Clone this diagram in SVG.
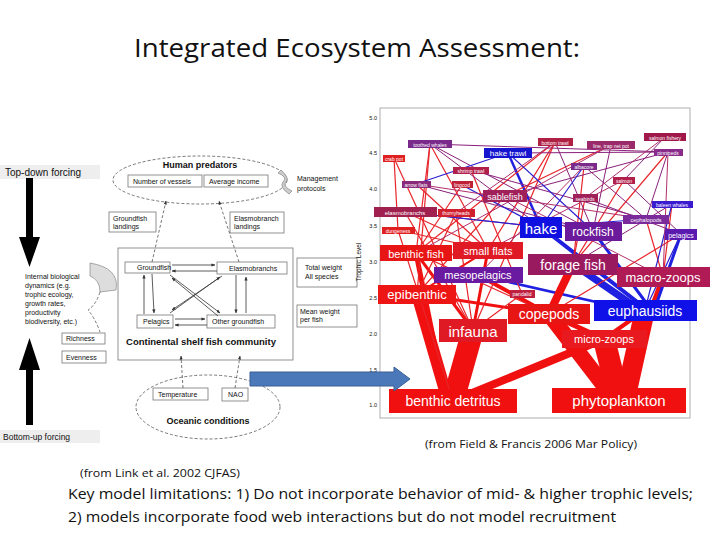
<svg xmlns="http://www.w3.org/2000/svg" width="720" height="540" viewBox="0 0 720 540">
<defs>
<style>
text{font-family:"Liberation Sans",Arial,sans-serif;fill:#111}
.cal{font-family:"Open Sans","Liberation Sans",sans-serif}
.bx{fill:#fff;stroke:#777;stroke-width:0.8}
.s{font-size:7px}
.b{font-weight:bold}
.dash{fill:none;stroke:#555;stroke-width:0.8;stroke-dasharray:3 2}
.ar{stroke:#333;stroke-width:0.8;fill:none}
.r{stroke:#e8252a;stroke-width:1.2}
.p{stroke:#8a1f7a;stroke-width:1}
.bl{stroke:#2b1fd0;stroke-width:1.2}
.m{stroke:#b0306a;stroke-width:1}
.fw text{fill:#fff}
</style>
<marker id="ah" viewBox="0 0 10 10" refX="9" refY="5" markerWidth="5" markerHeight="5" orient="auto"><path d="M0,1 L10,5 L0,9 z" fill="#333"/></marker>
</defs>
<rect width="720" height="540" fill="#fff"/>
<text x="357" y="57" text-anchor="middle" font-size="25" class="cal" textLength="446" lengthAdjust="spacingAndGlyphs">Integrated Ecosystem Assessment:</text>

<!-- left diagram -->
<g id="forcing">
<rect x="0" y="165" width="100" height="14" fill="#eee"/>
<text x="5" y="176" font-size="10">Top-down forcing</text>
<polygon points="26,178 33,178 33,237 40,237 29.5,267 19,237 26,237" fill="#000"/>
<polygon points="29.5,338 40,370 33,370 33,425 26,425 26,370 19,370" fill="#000"/>
<rect x="0" y="430" width="100" height="13" fill="#eee"/>
<text x="3" y="440" font-size="8.5">Bottom-up forcing</text>
</g>
<g id="human">
<ellipse cx="200" cy="180" rx="87" ry="24" class="dash"/>
<text x="200" y="168" font-size="9" text-anchor="middle" class="b">Human predators</text>
<rect x="128" y="175" width="74" height="12" class="bx"/><text x="133" y="184" class="s">Number of vessels</text>
<rect x="204" y="175" width="64" height="12" class="bx"/><text x="209" y="184" class="s">Average income</text>
</g>
<g id="mgmt">
<path d="M281,170 Q290,178 286,182 Q282,186 292,191 L289,194 Q279,187 283,182 Q288,177 278,173 z" fill="#ccc" stroke="#777" stroke-width="0.6"/>
<text x="297" y="181" class="s">Management</text><text x="297" y="191" class="s">protocols</text>
</g>
<g id="landings">
<rect x="109" y="212" width="47" height="20" class="bx"/><text x="113" y="221" class="s">Groundfish</text><text x="113" y="229" class="s">landings</text>
<rect x="230" y="212" width="54" height="21" class="bx"/><text x="234" y="221" class="s">Elasmobranch</text><text x="234" y="229" class="s">landings</text>
</g>
<g id="community">
<rect x="118" y="248" width="175" height="112" class="bx"/>
<rect x="125" y="262" width="45" height="11" class="bx"/><text x="137" y="270" class="s">Groundfish</text>
<rect x="217" y="262" width="70" height="12" class="bx"/><text x="229" y="271" class="s">Elasmobranchs</text>
<rect x="137" y="315" width="36" height="13" class="bx"/><text x="143" y="324" class="s">Pelagics</text>
<rect x="207" y="315" width="68" height="13" class="bx"/><text x="212" y="324" class="s">Other groundfish</text>
<text x="201" y="345" font-size="9.5" text-anchor="middle" class="b">Continental shelf fish community</text>
</g>
<g id="internal">
<text class="s" x="25" y="279">Internal biological</text>
<text class="s" x="25" y="288">dynamics (e.g.</text>
<text class="s" x="25" y="297">trophic ecology,</text>
<text class="s" x="25" y="306">growth rates,</text>
<text class="s" x="25" y="315">productivity</text>
<text class="s" x="25" y="324">biodiversity, etc.)</text>
<path d="M90,263 Q120,268 116,290 L100,292 Q100,280 90,276 z" fill="#ddd" stroke="#777" stroke-width="0.6"/>
<path d="M100,292 Q96,305 88,310 Q95,318 100,332" class="dash"/>
<rect x="62" y="333" width="43" height="11" class="bx"/><text x="66" y="341" class="s">Richness</text>
<rect x="62" y="351" width="44" height="12" class="bx"/><text x="66" y="360" class="s">Evenness</text>
</g>
<g id="metrics">
<rect x="297" y="258" width="60" height="29" class="bx"/><text x="305" y="270" class="s">Total weight</text><text x="305" y="279" class="s">All species</text>
<rect x="297" y="305" width="60" height="22" class="bx"/><text x="300" y="314" class="s">Mean weight</text><text x="300" y="322" class="s">per fish</text>
</g>
<g id="ocean">
<ellipse cx="208" cy="407" rx="72" ry="32" class="dash"/>
<rect x="153" y="388" width="55" height="12" class="bx"/><text x="158" y="397" class="s">Temperature</text>
<rect x="222" y="388" width="26" height="13" class="bx"/><text x="228" y="397" class="s">NAO</text>
<text x="208" y="424" font-size="9" text-anchor="middle" class="b">Oceanic conditions</text>
</g>
<g id="left-connectors" class="ar">
<line x1="152" y1="262" x2="166" y2="201" class="dash" marker-end="url(#ah)"/>
<line x1="239" y1="262" x2="219" y2="201" class="dash" marker-end="url(#ah)"/>
<line x1="183" y1="388" x2="181" y2="356" class="dash" marker-end="url(#ah)"/>
<line x1="235" y1="388" x2="240" y2="356" class="dash" marker-end="url(#ah)"/>
<line x1="172" y1="265" x2="215" y2="265" marker-end="url(#ah)"/>
<line x1="217" y1="271" x2="172" y2="271" marker-end="url(#ah)"/>
<line x1="175" y1="319" x2="205" y2="319" marker-end="url(#ah)"/>
<line x1="207" y1="325" x2="175" y2="325" marker-end="url(#ah)"/>
<line x1="144" y1="314" x2="144" y2="275" marker-end="url(#ah)"/>
<line x1="152" y1="274" x2="154" y2="313" marker-end="url(#ah)"/>
<line x1="236" y1="275" x2="236" y2="313" marker-end="url(#ah)"/>
<line x1="246" y1="313" x2="246" y2="277" marker-end="url(#ah)"/>
<line x1="170" y1="275" x2="220" y2="313" marker-end="url(#ah)"/>
<line x1="218" y1="316" x2="172" y2="278" marker-end="url(#ah)"/>
<line x1="170" y1="313" x2="220" y2="277" marker-end="url(#ah)"/>
<line x1="222" y1="276" x2="172" y2="310" marker-end="url(#ah)"/>
</g>

<!-- food web -->
<g id="plot">
<rect x="380" y="108" width="310" height="310" fill="#fff" stroke="#999" stroke-width="0.8"/>
<g font-size="5.5" text-anchor="end" fill="#333">
<text x="377" y="120">5.0</text><text x="377" y="155">4.5</text><text x="377" y="191">4.0</text><text x="377" y="228">3.5</text><text x="377" y="264">3.0</text><text x="377" y="300">2.5</text><text x="377" y="336">2.0</text><text x="377" y="372">1.5</text><text x="377" y="407">1.0</text>
</g>
<text transform="translate(361,262) rotate(-90)" font-size="6.5" text-anchor="middle">Trophic Level</text>
</g>
<g id="web-connectors" stroke-linecap="butt">
<line x1="453" y1="401" x2="473" y2="330" stroke="#f01010" stroke-width="22"/>
<line x1="448" y1="401" x2="417" y2="294" stroke="#f01010" stroke-width="12"/>
<line x1="446" y1="401" x2="416" y2="253" stroke="#f01010" stroke-width="5"/>
<line x1="460" y1="398" x2="604" y2="339" stroke="#f01010" stroke-width="8"/>
<line x1="619" y1="400" x2="604" y2="339" stroke="#f01010" stroke-width="22"/>
<line x1="615" y1="400" x2="549" y2="314" stroke="#f01010" stroke-width="16"/>
<line x1="625" y1="400" x2="645" y2="310" stroke="#f01010" stroke-width="20"/>
<line x1="618" y1="400" x2="663" y2="277" stroke="#f01010" stroke-width="5"/>
<line x1="640" y1="310" x2="573" y2="264" stroke="#2020e0" stroke-width="7"/>
<line x1="645" y1="308" x2="541" y2="227" stroke="#2020e0" stroke-width="4"/>
<line x1="650" y1="308" x2="593" y2="231" stroke="#2020e0" stroke-width="3"/>
<line x1="655" y1="308" x2="681" y2="234" stroke="#2020e0" stroke-width="3"/>
<line x1="640" y1="312" x2="478" y2="275" stroke="#2020e0" stroke-width="2.5"/>
<line x1="541" y1="227" x2="508" y2="153" stroke="#2020e0" stroke-width="2.5"/>
<line x1="549" y1="314" x2="573" y2="264" stroke="#f01010" stroke-width="8"/>
<line x1="549" y1="314" x2="478" y2="275" stroke="#f01010" stroke-width="4"/>
<line x1="473" y1="330" x2="416" y2="253" stroke="#f01010" stroke-width="3"/>
<line x1="473" y1="330" x2="488" y2="250" stroke="#f01010" stroke-width="3"/>
<line x1="417" y1="294" x2="488" y2="250" stroke="#f01010" stroke-width="2"/>
<line x1="417" y1="294" x2="549" y2="314" stroke="#f01010" stroke-width="3"/>
<line x1="604" y1="339" x2="549" y2="314" stroke="#f01010" stroke-width="5"/>
<line x1="604" y1="339" x2="645" y2="310" stroke="#f01010" stroke-width="4"/>
<g class="r">
<line x1="394" y1="158" x2="398" y2="230"/><line x1="398" y1="230" x2="453" y2="401"/><line x1="430" y1="144" x2="416" y2="253"/><line x1="430" y1="144" x2="488" y2="250"/>
<line x1="405" y1="212" x2="473" y2="330"/><line x1="456" y1="213" x2="417" y2="294"/><line x1="462" y1="185" x2="416" y2="253"/><line x1="416" y1="184" x2="488" y2="250"/>
<line x1="555" y1="142" x2="416" y2="253"/><line x1="555" y1="142" x2="488" y2="250"/><line x1="471" y1="170" x2="522" y2="294"/><line x1="505" y1="196" x2="417" y2="294"/>
<line x1="611" y1="145" x2="505" y2="196"/><line x1="624" y1="180" x2="573" y2="264"/><line x1="584" y1="166" x2="573" y2="264"/><line x1="585" y1="198" x2="573" y2="264"/>
<line x1="416" y1="253" x2="549" y2="314"/><line x1="405" y1="212" x2="488" y2="250"/><line x1="456" y1="213" x2="473" y2="330"/><line x1="522" y1="294" x2="473" y2="330"/>
<line x1="672" y1="204" x2="663" y2="277"/><line x1="681" y1="234" x2="549" y2="314"/><line x1="646" y1="219" x2="663" y2="277"/><line x1="668" y1="152" x2="573" y2="264"/>
<line x1="398" y1="230" x2="488" y2="250"/><line x1="394" y1="158" x2="473" y2="330"/><line x1="430" y1="144" x2="417" y2="294"/><line x1="555" y1="142" x2="473" y2="330"/>
</g>
<g class="p">
<line x1="430" y1="144" x2="541" y2="227"/><line x1="430" y1="144" x2="668" y2="152"/><line x1="430" y1="144" x2="593" y2="231"/><line x1="508" y1="153" x2="668" y2="152"/>
<line x1="611" y1="145" x2="593" y2="231"/><line x1="665" y1="137" x2="624" y2="180"/><line x1="668" y1="152" x2="505" y2="196"/><line x1="668" y1="152" x2="646" y2="219"/>
<line x1="584" y1="166" x2="646" y2="219"/><line x1="416" y1="184" x2="593" y2="231"/><line x1="405" y1="212" x2="541" y2="227"/><line x1="624" y1="180" x2="681" y2="234"/>
<line x1="585" y1="198" x2="681" y2="234"/><line x1="672" y1="204" x2="573" y2="264"/><line x1="555" y1="142" x2="593" y2="231"/><line x1="471" y1="170" x2="646" y2="219"/>
</g>
<g class="bl">
<line x1="508" y1="153" x2="416" y2="184"/><line x1="541" y1="227" x2="405" y2="212"/><line x1="672" y1="204" x2="645" y2="310"/><line x1="584" y1="166" x2="541" y2="227"/>
<line x1="646" y1="219" x2="541" y2="227"/><line x1="508" y1="153" x2="593" y2="231"/><line x1="462" y1="185" x2="541" y2="227"/><line x1="681" y1="234" x2="645" y2="310"/>
</g>
<g class="m">
<line x1="624" y1="180" x2="488" y2="250"/><line x1="665" y1="137" x2="585" y2="198"/><line x1="611" y1="145" x2="416" y2="253"/><line x1="668" y1="152" x2="663" y2="277"/>
<line x1="555" y1="142" x2="456" y2="213"/><line x1="584" y1="166" x2="478" y2="275"/><line x1="505" y1="196" x2="663" y2="277"/><line x1="416" y1="184" x2="646" y2="219"/>
</g>
</g>
<g id="web-nodes" class="fw">
<g id="n-toothed"><rect x="408" y="140" width="44" height="8" fill="#7a2a8a"/><text x="430" y="146.5" font-size="5" text-anchor="middle">toothed whales</text></g>
<g id="n-bottom"><rect x="538" y="138" width="35" height="8" fill="#b02045"/><text x="555" y="144.5" font-size="5" text-anchor="middle">bottom trawl</text></g>
<g id="n-haketrawl"><rect x="484" y="148" width="48" height="10" fill="#1515d0"/><text x="508" y="156" font-size="8" text-anchor="middle">hake trawl</text></g>
<g id="n-salmonf"><rect x="644" y="133" width="42" height="8" fill="#a0184a"/><text x="665" y="139.5" font-size="5" text-anchor="middle">salmon fishery</text></g>
<g id="n-line"><rect x="587" y="141" width="48" height="8" fill="#9a2a6a"/><text x="611" y="147.5" font-size="5" text-anchor="middle">line, trap net pot</text></g>
<g id="n-pinni"><rect x="654" y="149" width="29" height="7" fill="#8a2a8a"/><text x="668" y="154.5" font-size="5" text-anchor="middle">pinnipeds</text></g>
<g id="n-crab"><rect x="383" y="155" width="22" height="7" fill="#e02020"/><text x="394" y="160.5" font-size="5" text-anchor="middle">crab pot</text></g>
<g id="n-shrimp"><rect x="453" y="167" width="36" height="7" fill="#b0204a"/><text x="471" y="172.5" font-size="5" text-anchor="middle">shrimp trawl</text></g>
<g id="n-alba"><rect x="571" y="163" width="26" height="7" fill="#7a2a8a"/><text x="584" y="168.5" font-size="5" text-anchor="middle">albacore</text></g>
<g id="n-arrow"><rect x="402" y="181" width="29" height="7" fill="#8a2a7a"/><text x="416" y="186.5" font-size="5" text-anchor="middle">arrow flats</text></g>
<g id="n-ling"><rect x="452" y="181" width="21" height="7" fill="#c02035"/><text x="462" y="186.5" font-size="5" text-anchor="middle">lingcod</text></g>
<g id="n-salmon"><rect x="613" y="177" width="22" height="7" fill="#b0204a"/><text x="624" y="182.5" font-size="5" text-anchor="middle">salmon</text></g>
<g id="n-sable"><rect x="483" y="190" width="44" height="12" fill="#a0205a"/><text x="505" y="199.5" font-size="9" text-anchor="middle">sablefish</text></g>
<g id="n-seab"><rect x="573" y="194" width="25" height="8" fill="#a0205a"/><text x="585" y="200.5" font-size="5" text-anchor="middle">seabirds</text></g>
<g id="n-baleen"><rect x="652" y="201" width="41" height="7" fill="#3a1ad0"/><text x="672" y="206.5" font-size="5" text-anchor="middle">baleen whales</text></g>
<g id="n-elasmo"><rect x="374" y="207" width="63" height="10" fill="#a02050"/><text x="405" y="214.5" font-size="6" text-anchor="middle">elasmobranchs</text></g>
<g id="n-thorny"><rect x="438" y="209" width="37" height="8" fill="#d02030"/><text x="456" y="215" font-size="5" text-anchor="middle">thornyheads</text></g>
<g id="n-cephalo"><rect x="623" y="215" width="46" height="9" fill="#7a2a9a"/><text x="646" y="221.5" font-size="5.5" text-anchor="middle">cephalopods</text></g>
<g id="n-dung"><rect x="382" y="227" width="33" height="7" fill="#e02020"/><text x="398" y="232.5" font-size="5" text-anchor="middle">dungeness</text></g>
<g id="n-hake"><rect x="520" y="217" width="42" height="21" fill="#1010e0"/><text x="541" y="233.5" font-size="15" text-anchor="middle">hake</text></g>
<g id="n-rock"><rect x="565" y="222" width="57" height="19" fill="#6a1a9a"/><text x="593" y="236" font-size="12" text-anchor="middle">rockfish</text></g>
<g id="n-pelag"><rect x="665" y="229" width="32" height="11" fill="#5a1ab0"/><text x="681" y="237.5" font-size="7" text-anchor="middle">pelagics</text></g>
<g id="n-bfish"><rect x="380" y="245" width="72" height="16" fill="#e81515"/><text x="416" y="257.5" font-size="11" text-anchor="middle">benthic fish</text></g>
<g id="n-sflats"><rect x="453" y="242" width="70" height="17" fill="#e01a25"/><text x="488" y="255" font-size="11" text-anchor="middle">small flats</text></g>
<g id="n-forage"><rect x="528" y="254" width="90" height="21" fill="#9a1a60"/><text x="573" y="269.5" font-size="14" text-anchor="middle">forage fish</text></g>
<g id="n-meso"><rect x="434" y="267" width="89" height="16" fill="#6a1aa0"/><text x="478" y="279" font-size="11" text-anchor="middle">mesopelagics</text></g>
<g id="n-macro"><rect x="617" y="267" width="93" height="20" fill="#b01a55"/><text x="663" y="281.5" font-size="13" text-anchor="middle">macro-zoops</text></g>
<g id="n-epi"><rect x="378" y="285" width="78" height="19" fill="#ee1515"/><text x="417" y="299" font-size="13" text-anchor="middle">epibenthic</text></g>
<g id="n-pand"><rect x="510" y="290" width="25" height="8" fill="#c02040"/><text x="522" y="296" font-size="5" text-anchor="middle">pandalid</text></g>
<g id="n-cope"><rect x="508" y="304" width="82" height="20" fill="#e81515"/><text x="549" y="319" font-size="14" text-anchor="middle">copepods</text></g>
<g id="n-euph"><rect x="594" y="300" width="103" height="21" fill="#1010e8"/><text x="645" y="316" font-size="14" text-anchor="middle">euphausiids</text></g>
<g id="n-infauna"><rect x="439" y="319" width="68" height="23" fill="#e01a25"/><text x="473" y="336.5" font-size="15" text-anchor="middle">infauna</text></g>
<g id="n-micro"><rect x="562" y="330" width="85" height="18" fill="#e81a20"/><text x="604" y="343" font-size="11" text-anchor="middle">micro-zoops</text></g>
<g id="n-detr"><rect x="389" y="389" width="128" height="24" fill="#f01010"/><text x="453" y="406" font-size="14" text-anchor="middle">benthic detritus</text></g>
<g id="n-phyto"><rect x="552" y="388" width="134" height="25" fill="#f01010"/><text x="619" y="406" font-size="15" text-anchor="middle">phytoplankton</text></g>
</g>
<polygon points="250,372 394,372 394,367 410,379 394,391 394,386 250,386" fill="#4a78b8" stroke="#3a5f95" stroke-width="1"/>

<text x="425" y="448" font-size="11" class="cal" textLength="212" lengthAdjust="spacingAndGlyphs">(from Field &amp; Francis 2006 Mar Policy)</text>
<text x="80" y="477" font-size="11" class="cal" textLength="160" lengthAdjust="spacingAndGlyphs">(from Link et al. 2002 CJFAS)</text>
<text x="68" y="499" font-size="15" class="cal" textLength="625" lengthAdjust="spacingAndGlyphs">Key model limitations: 1) Do not incorporate behavior of mid- &amp; higher trophic  levels;</text>
<text x="68" y="522" font-size="15" class="cal" textLength="548" lengthAdjust="spacingAndGlyphs">2) models incorporate food web interactions but do not model recruitment</text>
</svg>
